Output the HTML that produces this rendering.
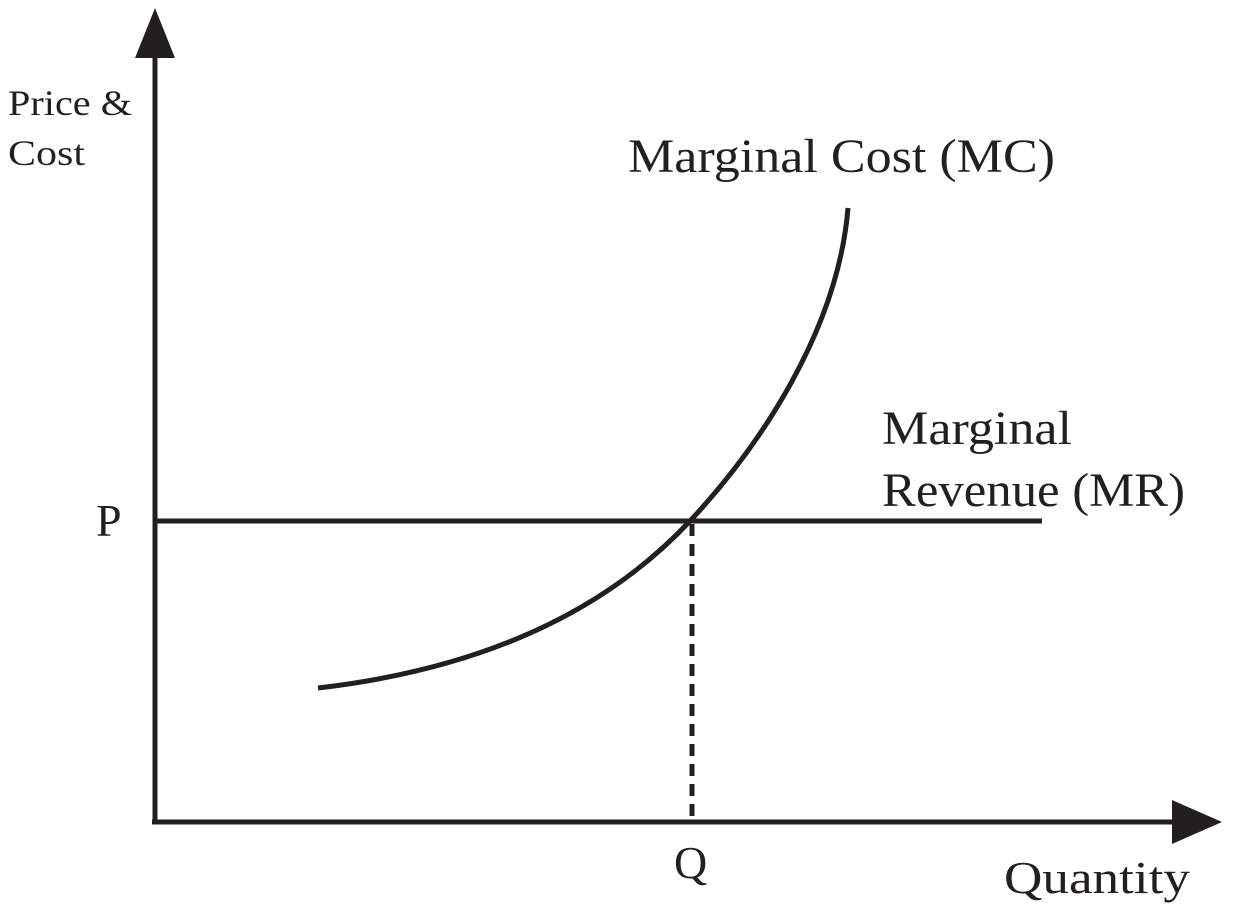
<!DOCTYPE html>
<html><head><meta charset="utf-8"><style>
html,body{margin:0;padding:0;background:#fff;}
svg{display:block;}
text{font-family:"Liberation Serif",serif;fill:#231f20;}
</style></head><body>
<svg width="1243" height="912" viewBox="0 0 1243 912" xmlns="http://www.w3.org/2000/svg">
<g stroke="#231f20" stroke-width="5" fill="none">
<line x1="155" y1="50" x2="155" y2="824"/>
<line x1="152" y1="822" x2="1185" y2="822"/>
<line x1="155" y1="521" x2="1042" y2="521"/>
<path d="M318,688 Q560,660 690,521 C760,446 838,330 848,208"/>
<line x1="692" y1="524" x2="692" y2="822" stroke-dasharray="12,8"/>
</g>
<polygon points="155,8 135,58 175,58" fill="#231f20"/>
<polygon points="1222,822 1172,800 1172,844" fill="#231f20"/>
<text x="8" y="115" font-size="36" textLength="124" lengthAdjust="spacingAndGlyphs">Price &amp;</text>
<text x="8" y="165" font-size="36" textLength="77" lengthAdjust="spacingAndGlyphs">Cost</text>
<text x="628" y="172" font-size="48" textLength="427" lengthAdjust="spacingAndGlyphs">Marginal Cost (MC)</text>
<text x="882" y="444" font-size="48" textLength="190" lengthAdjust="spacingAndGlyphs">Marginal</text>
<text x="882" y="506" font-size="48" textLength="303" lengthAdjust="spacingAndGlyphs">Revenue (MR)</text>
<text x="96" y="536" font-size="46">P</text>
<text x="674" y="878" font-size="46">Q</text>
<text x="1004" y="893" font-size="46" textLength="186" lengthAdjust="spacingAndGlyphs">Quantity</text>
</svg>
</body></html>
